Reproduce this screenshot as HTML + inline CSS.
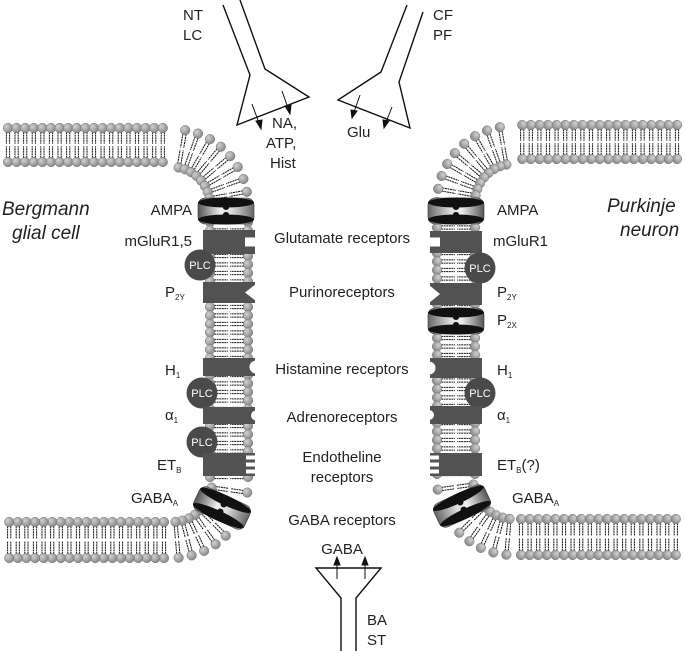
<!DOCTYPE html>
<html><head><meta charset="utf-8"><style>
html,body{margin:0;padding:0;background:#fff;}
svg{display:block;}
text{font-family:"Liberation Sans",sans-serif;fill:#222;}
</style></head><body>
<svg id="s" width="685" height="651" viewBox="0 0 685 651" xmlns="http://www.w3.org/2000/svg">
<defs>
<radialGradient id="hg" cx="0.35" cy="0.35" r="0.7"><stop offset="0" stop-color="#d0d0d0"/><stop offset="1" stop-color="#858585"/></radialGradient>
<linearGradient id="cg" x1="0" y1="0" x2="1" y2="0"><stop offset="0" stop-color="#555"/><stop offset="0.4" stop-color="#eee"/><stop offset="0.6" stop-color="#ddd"/><stop offset="1" stop-color="#666"/></linearGradient>
<g id="chan">
<rect x="-28" y="-13" width="56" height="26" rx="7" fill="url(#cg)" stroke="#333" stroke-width="0.6"/>
<ellipse cx="0" cy="-8.5" rx="28" ry="5" fill="#111"/>
<ellipse cx="0" cy="8.5" rx="28" ry="5" fill="#111"/>
<ellipse cx="0" cy="-3.5" rx="3" ry="2.5" fill="#111"/>
<ellipse cx="0" cy="3.5" rx="3" ry="2.5" fill="#111"/>
</g>
</defs>
<g id="memL"></g>
<use href="#memL" transform="translate(685,-3) scale(-1,1)"/>
<g id="rec" fill="#525252"></g>

<!-- fibers -->
<g fill="none" stroke="#111" stroke-width="1.4">
<polyline points="223,5 250,75 237,125 309,97 265,69 240,0"/>
<polyline points="407,5 381,72 338,100 410,128 399,82 423,12"/>
<polyline points="341,651 341,598 316,568 381,568 356,598 356,651"/>
</g>
<g stroke="#111" stroke-width="1" fill="#111">
<line x1="252" y1="104" x2="259" y2="123"/><polygon points="261,129 256,121 262,120"/>
<line x1="282" y1="91" x2="288" y2="108"/><polygon points="290,114 285,106 291,105"/>
<line x1="360" y1="95" x2="354" y2="112"/><polygon points="352,118 351,110 357,111"/>
<line x1="392" y1="107" x2="386" y2="122"/><polygon points="384,128 383,120 389,121"/>
<line x1="337" y1="579" x2="337" y2="563"/><polygon points="337,557 334,565 340,565"/>
<line x1="365" y1="579" x2="365" y2="563"/><polygon points="365,557 362,565 368,565"/>
</g>

<g font-size="15">
<text x="183" y="20">NT</text><text x="183" y="40">LC</text>
<text x="433" y="20">CF</text><text x="433" y="40">PF</text>
<text x="272" y="128">NA,</text><text x="266" y="148">ATP,</text><text x="270" y="168">Hist</text>
<text x="347" y="137">Glu</text>
<text x="342" y="554" text-anchor="middle">GABA</text>
<text x="367" y="625">BA</text><text x="367" y="645">ST</text>

<text x="342" y="243" text-anchor="middle">Glutamate receptors</text>
<text x="342" y="297" text-anchor="middle">Purinoreceptors</text>
<text x="342" y="374" text-anchor="middle">Histamine receptors</text>
<text x="342" y="422" text-anchor="middle">Adrenoreceptors</text>
<text x="342" y="462" text-anchor="middle">Endotheline</text>
<text x="342" y="482" text-anchor="middle">receptors</text>
<text x="342" y="525" text-anchor="middle">GABA receptors</text>

<text x="192" y="215" text-anchor="end">AMPA</text>
<text x="192" y="246" text-anchor="end">mGluR1,5</text>
<text x="165" y="297">P<tspan font-size="8" dy="3">2Y</tspan></text>
<text x="165" y="375">H<tspan font-size="8" dy="3">1</tspan></text>
<text x="165" y="420">α<tspan font-size="8" dy="3">1</tspan></text>
<text x="157" y="470">ET<tspan font-size="8" dy="3">B</tspan></text>
<text x="131" y="503">GABA<tspan font-size="8" dy="3">A</tspan></text>

<text x="497" y="215">AMPA</text>
<text x="493" y="246">mGluR1</text>
<text x="497" y="297">P<tspan font-size="8" dy="3">2Y</tspan></text>
<text x="497" y="325">P<tspan font-size="8" dy="3">2X</tspan></text>
<text x="497" y="375">H<tspan font-size="8" dy="3">1</tspan></text>
<text x="497" y="420">α<tspan font-size="8" dy="3">1</tspan></text>
<text x="497" y="470">ET<tspan font-size="8" dy="3">B</tspan><tspan dy="-3">(?)</tspan></text>
<text x="512" y="503">GABA<tspan font-size="8" dy="3">A</tspan></text>
</g>
<g font-size="19" font-style="italic">
<text x="2" y="215">Bergmann</text>
<text x="12" y="239">glial cell</text>
<text x="607" y="212">Purkinje</text>
<text x="620" y="236">neuron</text>
</g>
</svg>
<script>
var NS="http://www.w3.org/2000/svg";
function el(p,t,a){var e=document.createElementNS(NS,t);for(var k in a)e.setAttribute(k,a[k]);p.appendChild(e);return e;}
var m=document.getElementById("memL");
var tails=el(m,"g",{stroke:"#111","stroke-width":"1","stroke-dasharray":"2 0.6",fill:"none"});
var heads=el(m,"g",{fill:"url(#hg)",stroke:"#777","stroke-width":"0.5"});
function pair(ix,iy,ox,oy){
 var dx=ox-ix,dy=oy-iy,L=Math.sqrt(dx*dx+dy*dy),ux=dx/L,uy=dy/L,nx=-uy,ny=ux;
 var mx=(ix+ox)/2,my=(iy+oy)/2;
 [[ix,iy,1],[ox,oy,-1]].forEach(function(h){
  var sx=h[0]+ux*h[2]*4,sy=h[1]+uy*h[2]*4,ex=mx-ux*h[2]*1.2,ey=my-uy*h[2]*1.2;
  [-1.6,1.6].forEach(function(o){el(tails,"line",{x1:sx+nx*o,y1:sy+ny*o,x2:ex+nx*o,y2:ey+ny*o});});
  el(heads,"circle",{cx:h[0],cy:h[1],r:4.8});
 });
}
var x;
for(x=8;x<=168;x+=8.6)pair(x,162,x,128);
function arc(cx,cy,ri,ro,a){var r=a*Math.PI/180;pair(cx+ri*Math.cos(r),cy+ri*Math.sin(r),cx+ro*Math.cos(r),cy+ro*Math.sin(r));}
for(var a=-80;a<=-10;a+=10)arc(172,205,38,76,a);
for(var y=205;y<=480;y+=8.5)pair(210,y,248,y);
[8,45,55,65,75,85].forEach(function(a){arc(172,482,40,76,a);});
for(x=164;x>=4;x-=8.6)pair(x,522,x,558);

var R=document.getElementById("rec");
function side(mir,list){
 var g=el(R,"g",mir?{transform:"translate(685,0) scale(-1,1)"}:{});
 list.forEach(function(it){
  var t=it[0];
  if(t=="chan"){el(g,"use",{href:"#chan",transform:"translate("+it[1]+","+it[2]+") rotate("+(it[3]||0)+")"});}
  else if(t=="plc"){el(g,"circle",{cx:it[1],cy:it[2],r:15.5,fill:"#4a4a4a"});
   var tx=el(g,"text",{x:it[1],y:it[2]+4,"text-anchor":"middle","font-size":"11",style:"fill:#fff",transform:mir?"translate("+(2*it[1])+",0) scale(-1,1)":""});tx.textContent="PLC";}
  else{var y0=it[1],y1=it[2];el(g,"rect",{x:203,y:y0,width:52,height:y1-y0,fill:"#525252"});
   var mid=(y0+y1)/2;
   if(t=="sq")el(g,"rect",{x:245,y:mid-4.5,width:11,height:9,fill:"#fff"});
   if(t=="v")el(g,"polygon",{points:"256,"+(y0+2)+" 245,"+mid+" 256,"+(y1-2),fill:"#fff"});
   if(t=="semi")el(g,"circle",{cx:256,cy:mid,r:it[3]||6.5,fill:"#fff"});
   if(t=="comb"){[-7,0,7].forEach(function(o){el(g,"rect",{x:246,y:mid+o-2,width:10,height:4,fill:"#fff"});});}
  }
 });
}
side(false,[["chan",226,211,0],["sq",230,254],["plc",200,265],["v",282,303],["semi",358,376],["plc",202,393],["semi",407,424,5],["plc",202,442],["comb",453,476],["chan",222,508,25]]);
side(true,[["chan",229,211,0],["sq",231,253],["plc",205,268],["v",283,305],["chan",229,321,0],["semi",358,378],["plc",205,393],["semi",406,424,5],["comb",453,476],["chan",223,506,25]]);
</script>
</body></html>
